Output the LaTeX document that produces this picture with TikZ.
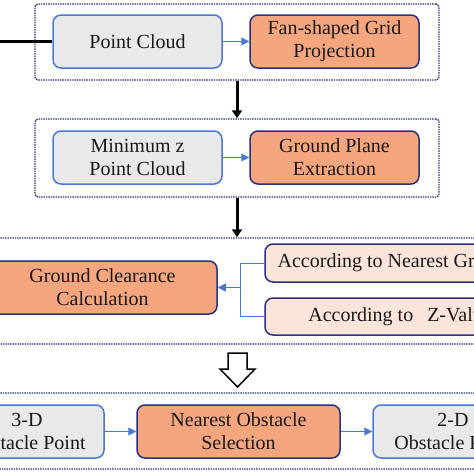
\documentclass[tikz,border=0pt]{standalone}
\usepackage{fontspec}
\setmainfont{Liberation Serif}
\usetikzlibrary{arrows.meta}
\definecolor{navy}{HTML}{2A2F7E}
\definecolor{edgeblue}{HTML}{4A78D8}
\definecolor{cloud}{HTML}{E8E9E8}
\definecolor{salmon}{HTML}{F6A67E}
\definecolor{blush}{HTML}{FBE5DB}

\tikzset{
  box/.style={rounded corners=8pt,line width=1.5pt,align=center,inner sep=0pt,
    font=\fontsize{20}{23}\selectfont,text=black!90},
  graybox/.style={box,draw=edgeblue,fill=cloud},
  orangebox/.style={box,draw=navy,fill=salmon},
  pinkbox/.style={box,draw=navy,fill=blush},
  group/.style={draw=navy,densely dotted,line width=1.4pt,rounded corners=3pt},
  flow/.style={edgeblue,line width=1pt,-{Triangle[length=8pt,width=8pt]}},
  step arrow/.style={black,line width=3pt,-{Triangle[length=8pt,width=10pt]}}
}

\begin{document}
\begin{tikzpicture}[x=1pt,y=-1pt]
  \useasboundingbox (0,0) rectangle (474,474);
  \clip (0,0) rectangle (474,474);
  % dotted stage frames
  \node[group,minimum width=404,minimum height=76] (g1) at (237,42) {};
  \node[group,minimum width=404,minimum height=78] (g2) at (237,158) {};
  \node[group,minimum width=510,minimum height=106] (g3) at (237,291) {};
  \node[group,minimum width=510,minimum height=76] (g4) at (237,431) {};

  % stage 1
  \node[graybox,minimum width=169,minimum height=53] (pc) at (137.5,41.5) {Point Cloud};
  \node[orangebox,minimum width=169,minimum height=53] (fan) at (334.5,41.5) {Fan-shaped Grid\\Projection};
  \coordinate (in) at (-5,41.5);
  \draw[black,line width=3pt] (in) -- (pc.west);
  \draw[flow] (pc.east) -- (fan.west);

  % stage 2
  \node[graybox,minimum width=169,minimum height=53] (minz) at (137.5,157.5) {Minimum z\\Point Cloud};
  \node[orangebox,minimum width=169,minimum height=53] (gpe) at (334.5,157.5) {Ground Plane\\Extraction};
  \draw[flow] (minz.east) -- (gpe.west);

  \draw[step arrow] (g1.south) -- (g2.north);
  \draw[step arrow] (g2.south) -- (g3.north);

  % stage 3
  \node[orangebox,minimum width=229,minimum height=53] (gcc) at (102.5,287.5) {Ground Clearance\\Calculation};
  \node[pinkbox,minimum width=238,minimum height=38] (near) at (384,263) {According to Nearest Grid};
  \node[pinkbox,minimum width=270,minimum height=37] (zval) at (400,316.5) {According to\hspace{0.45em} Z-Value};
  \coordinate (jn) at (240,287.5);
  \draw[edgeblue,line width=1pt] (near.west) -| (jn);
  \draw[edgeblue,line width=1pt] (zval.west) -| (jn);
  \draw[flow] (jn) -- (gcc.east);

  % hollow arrow between stages
  \draw[black,line width=1.5pt,fill=white,line join=miter]
    (228,353) -- (247,353) -- (247,369) -- (255,369) -- (237.5,387)
    -- (220,369) -- (228,369) -- cycle;

  % stage 4
  \node[graybox,minimum width=154,minimum height=53] (d3) at (27,431.5) {3-D\\Obstacle Point};
  \node[orangebox,minimum width=203,minimum height=53] (nos) at (238.5,431.5) {Nearest Obstacle\\Selection};
  \node[graybox,minimum width=160,minimum height=53] (d2) at (453,431.5) {2-D\\Obstacle Point};
  \draw[flow] (d3.east) -- (nos.west);
  \draw[flow] (nos.east) -- (d2.west);
\end{tikzpicture}
\end{document}
